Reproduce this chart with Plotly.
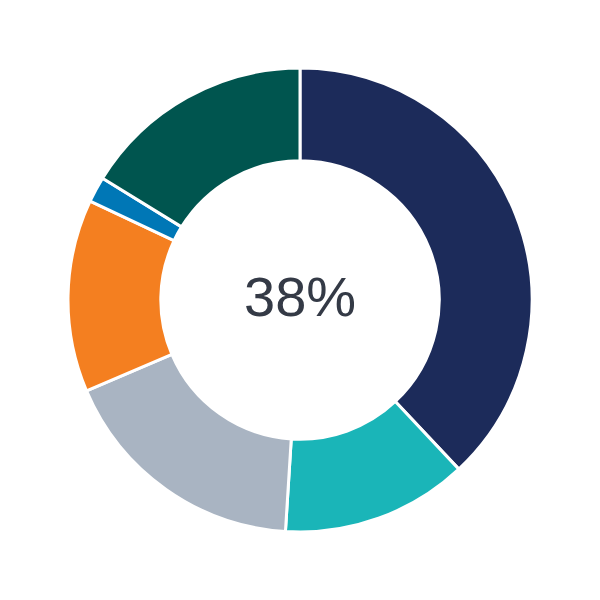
import plotly.graph_objects as go

labels = ["Segment A", "Segment B", "Segment C", "Segment D", "Segment E", "Segment F"]
values = [38, 13, 17.6, 13.4, 1.8, 16.2]
colors = ["#1c2b5a", "#1ab5b8", "#a9b4c2", "#f47f20", "#0077b6", "#00554f"]
center_text = "38%"

fig = go.Figure(go.Pie(
    labels=labels,
    values=values,
    hole=0.6,
    sort=False,
    direction="clockwise",
    rotation=0,
    marker=dict(colors=colors, line=dict(color="white", width=3)),
    textinfo="none",
    hoverinfo="label+percent",
))

# body has an 8px default margin, so shift the domain up/left to centre on 300,300
fig.update_layout(
    width=600,
    height=600,
    showlegend=False,
    margin=dict(l=60, r=76, t=60, b=76),
    paper_bgcolor="white",
    plot_bgcolor="white",
    annotations=[dict(
        text=center_text, x=0.5, y=0.5, xref="paper", yref="paper",
        showarrow=False, yshift=4,
        font=dict(family="Liberation Sans, Arial, sans-serif", size=56, color="#343a46"),
    )],
)

fig.write_html("out.html")
